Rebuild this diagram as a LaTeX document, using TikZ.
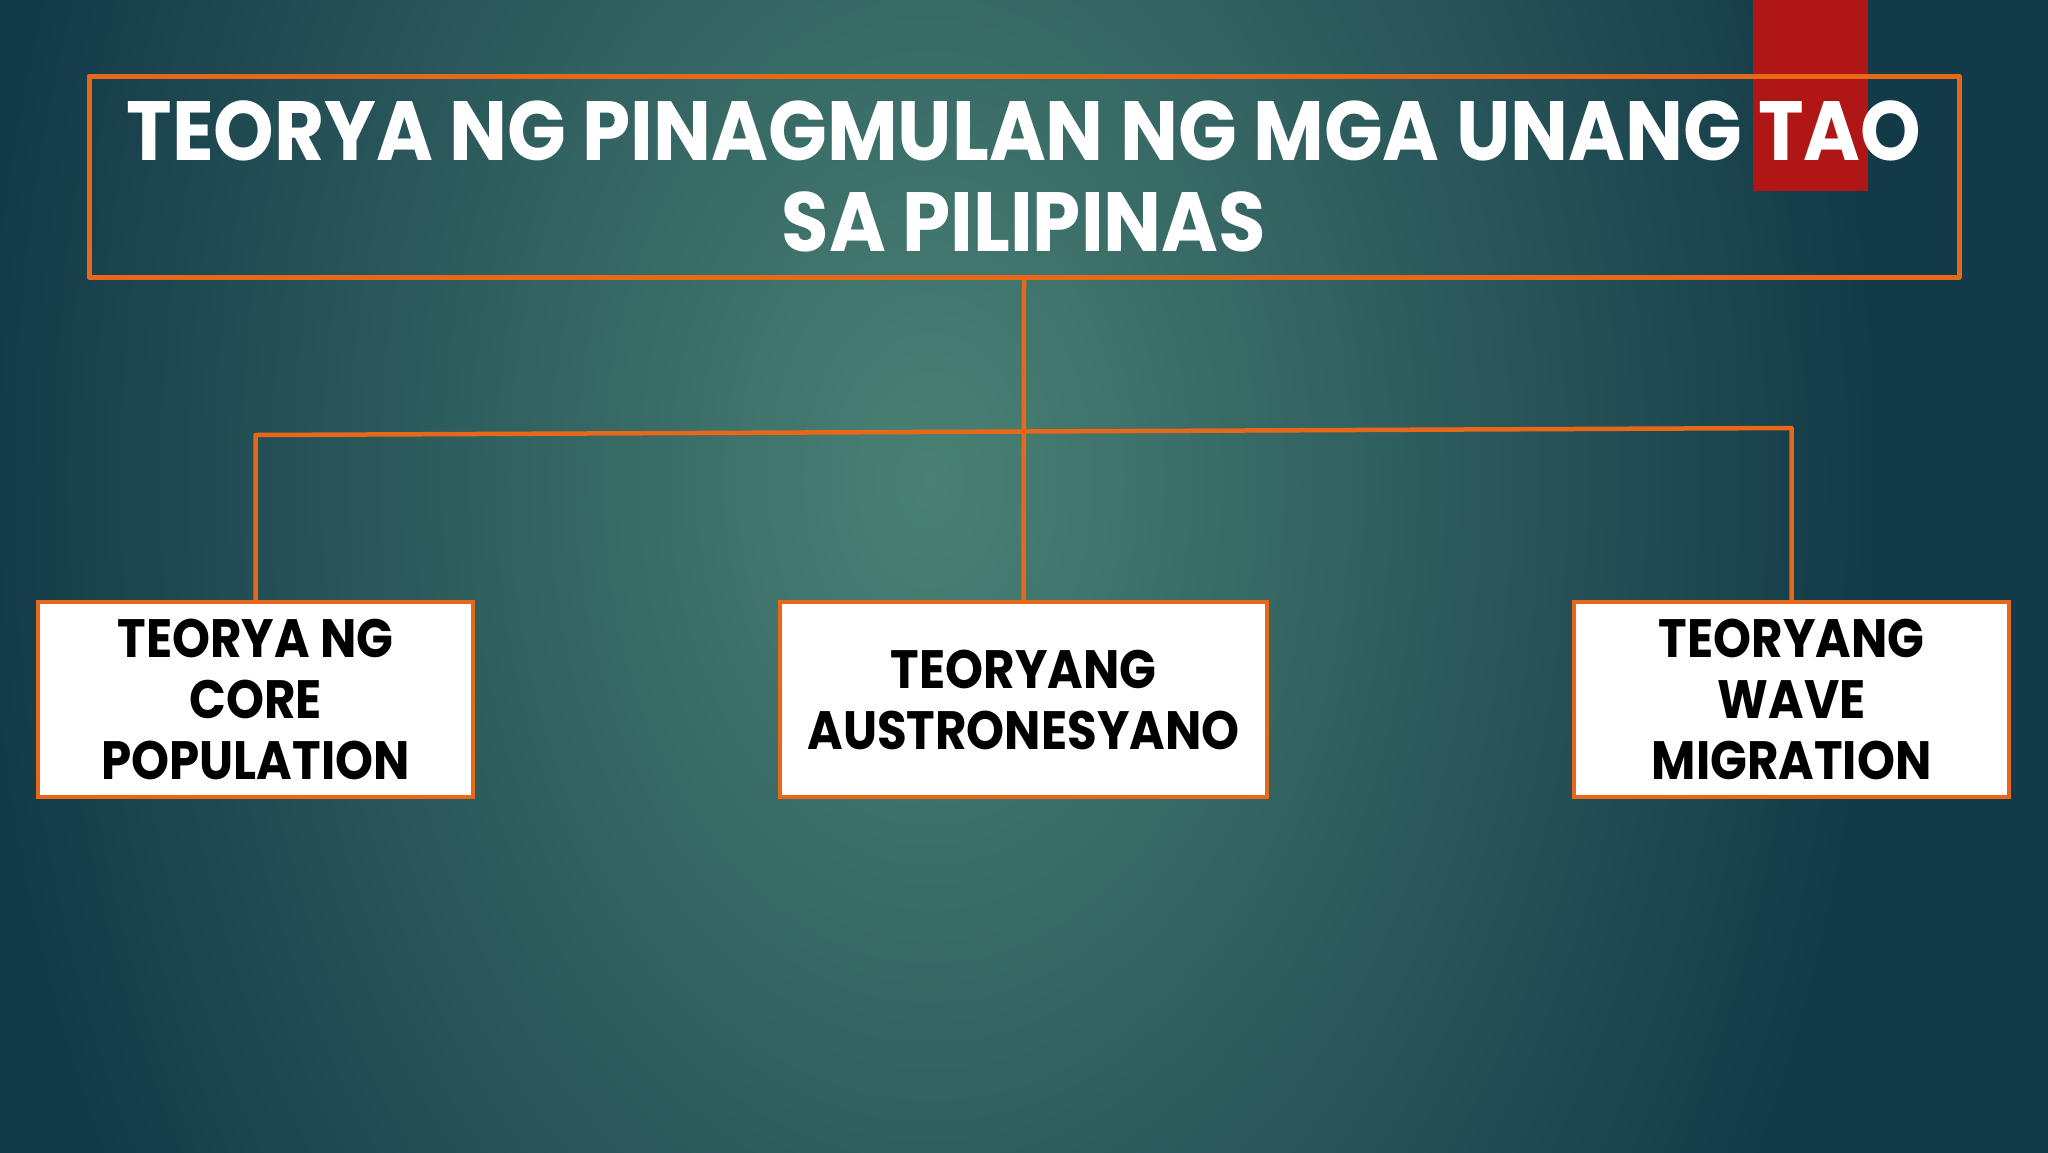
\documentclass[tikz,border=0pt]{standalone}
\usepackage{fontspec}
\setmainfont{Poppins}
\newfontfamily\titlefont{Poppins}[FakeStretch=0.918]
\newfontfamily\childfont{Poppins}[FakeStretch=0.895]
\definecolor{bgin}{HTML}{4A8174}
\definecolor{bgout}{HTML}{133A48}
\definecolor{orng}{HTML}{E8681A}
\definecolor{redbar}{HTML}{B01616}
\tikzset{
  titlebox/.style={draw=orng, line width=5pt, line join=round, minimum width=1870pt, minimum height=201pt,
    inner sep=0pt, align=center, text=white, font=\titlefont\fontsize{84}{91}\selectfont\bfseries},
  childbox/.style={draw=orng, fill=white, line width=3.5pt, minimum height=195pt, inner sep=0pt,
    align=center, text=black, font=\childfont\fontsize{54}{61}\selectfont\bfseries},
  link/.style={draw=orng, line width=4.5pt, line join=round}
}
\begin{document}
\begin{tikzpicture}[x=1pt,y=-1pt]
\useasboundingbox (0,0) rectangle (2048,1152);
\fill[bgout] (-8,-8) rectangle (2056,1160);
\begin{scope}
\clip (-8,-8) rectangle (2056,1160);
\shade[inner color=bgin, outer color=bgout] (930,480) ellipse [x radius=950, y radius=1400];
\end{scope}
\fill[redbar] (1753,-8) rectangle (1868,191);
\node[titlebox] (title) at (1024,176.5) {TEORYA NG PINAGMULAN NG MGA UNANG TAO\\SA PILIPINAS};
\node[childbox, minimum width=435pt] (left) at (255.5,699.5) {TEORYA NG\\CORE\\POPULATION};
\node[childbox, minimum width=487pt] (mid) at (1023.5,699.5) {TEORYANG\\AUSTRONESYANO};
\node[childbox, minimum width=435pt] (right) at (1791.5,699.5) {TEORYANG\\WAVE\\MIGRATION};
\coordinate (jl) at (255.5,435);
\coordinate (jr) at (1791.5,428);
\draw[link] (title.south) -- (mid.north);
\draw[link] (left.north) -- (jl) -- (jr) -- (right.north);
\end{tikzpicture}
\end{document}
